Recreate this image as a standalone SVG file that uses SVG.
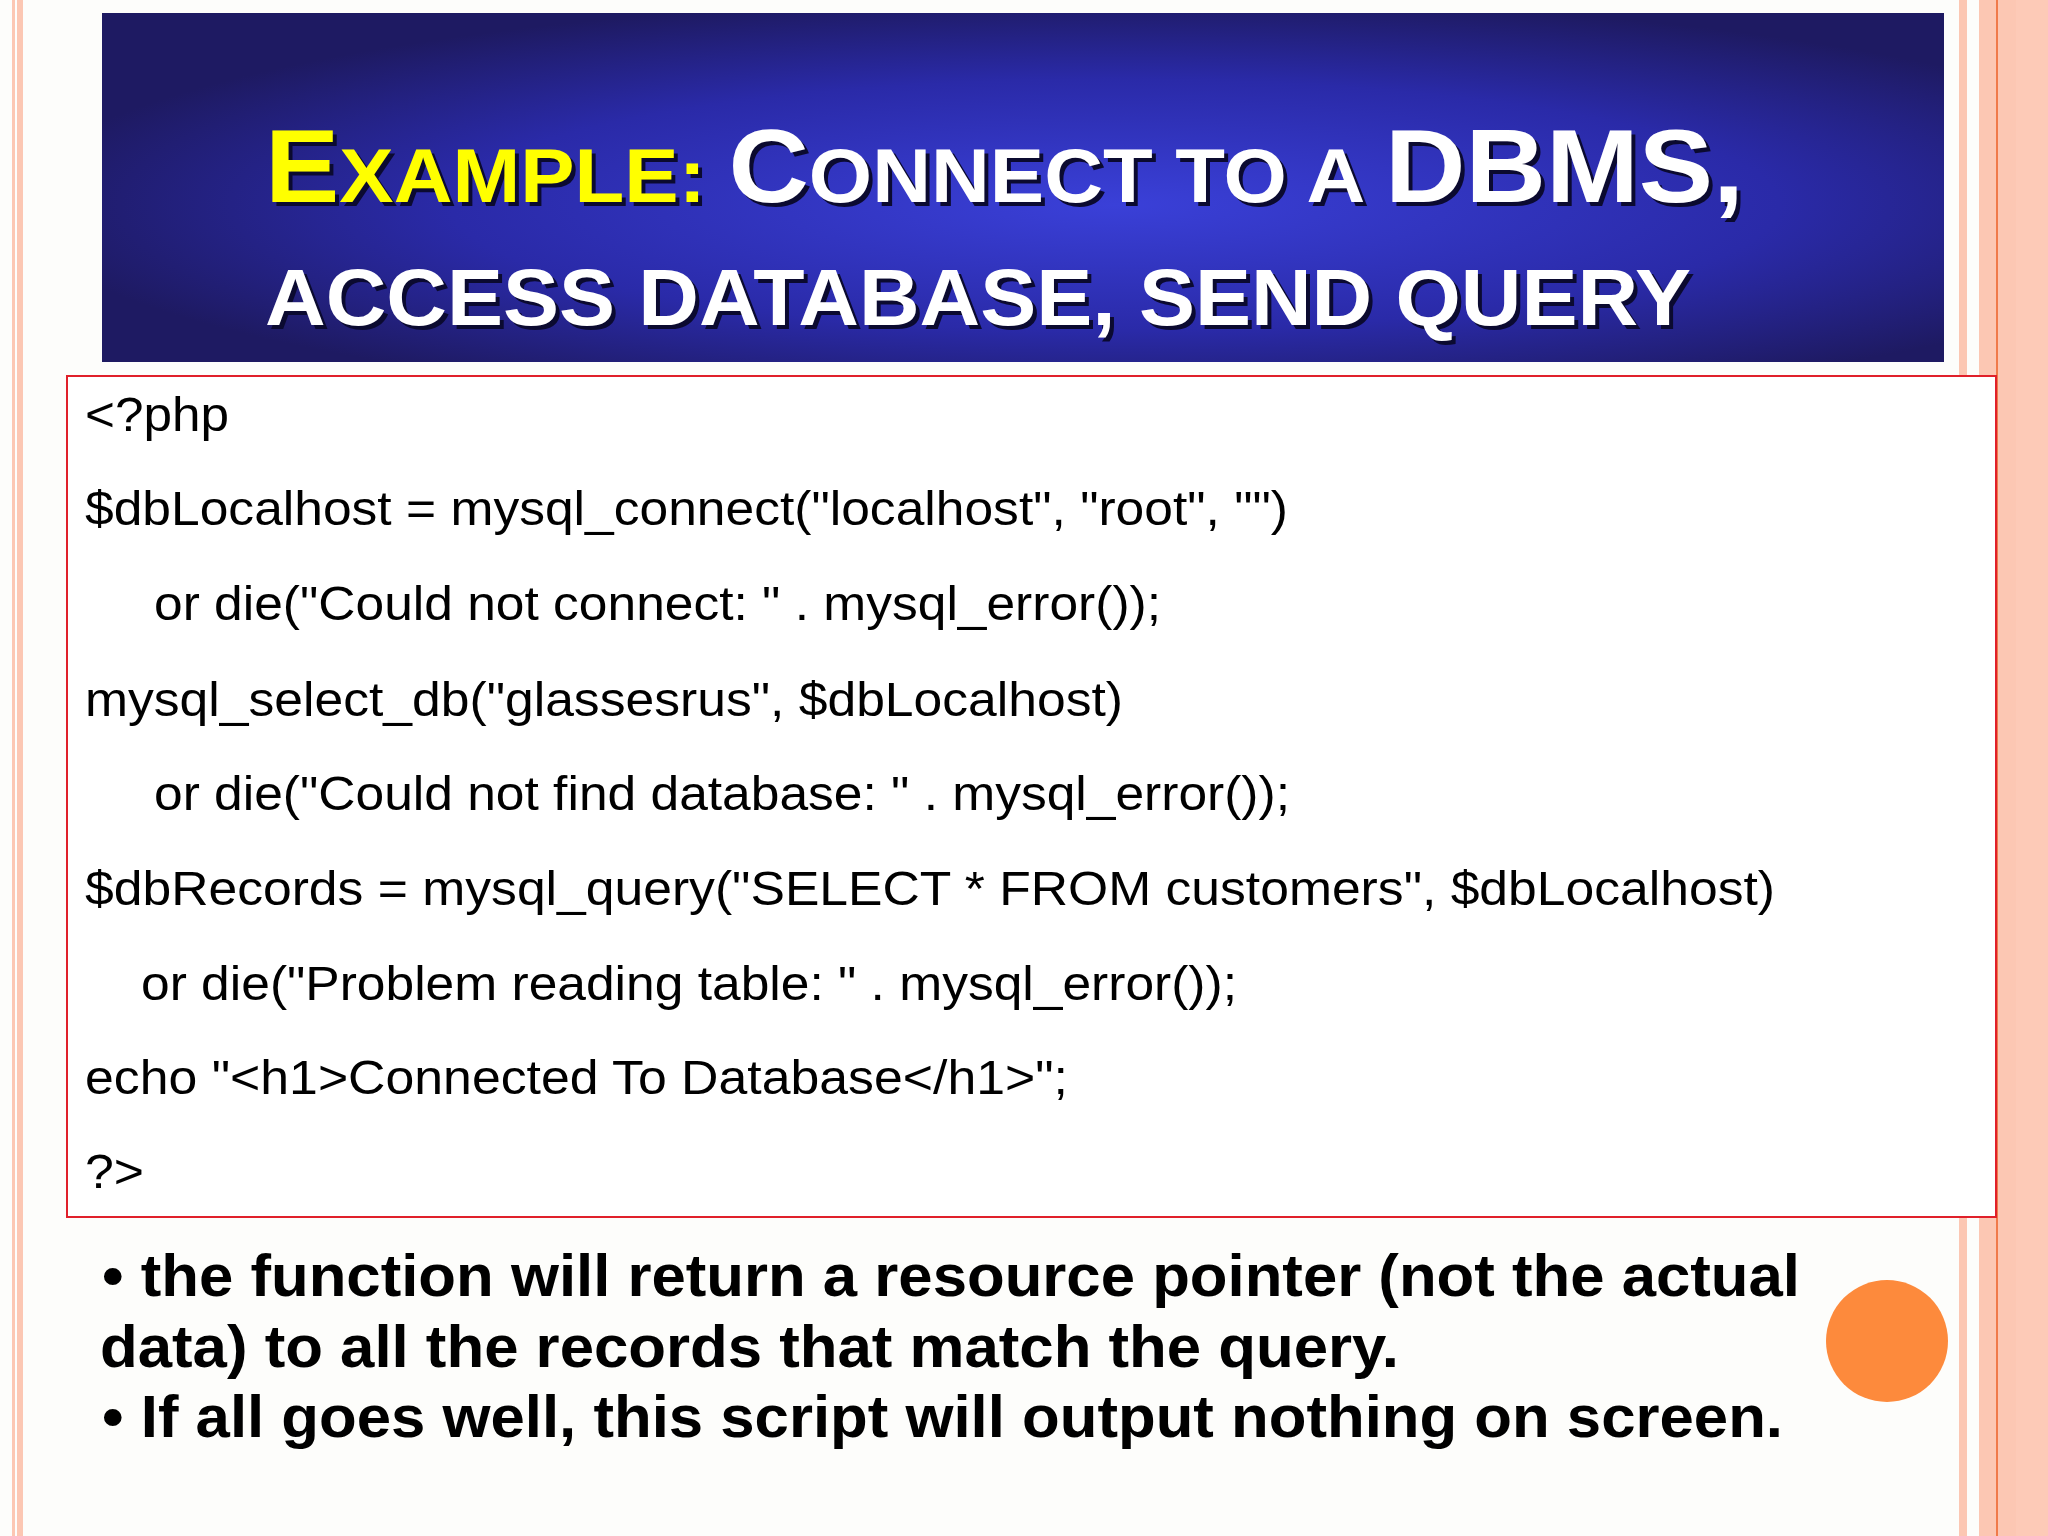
<svg xmlns="http://www.w3.org/2000/svg" width="2048" height="1536" viewBox="0 0 2048 1536">
<style>
.t{font-family:"Liberation Sans",Arial,sans-serif;font-weight:bold}
.c{font-family:"Liberation Sans",Arial,sans-serif;font-size:49px;fill:#000}
.b{font-family:"Liberation Sans",Arial,sans-serif;font-weight:bold;font-size:60px;fill:#000}
.sh{fill:#0b0a30}
.pk{fill:#fcc7b3}
</style>
<defs>
<radialGradient id="bg" cx="0.55" cy="0.55" r="0.6">
<stop offset="0" stop-color="#3a40d8"/>
<stop offset="0.6" stop-color="#2a2aa8"/>
<stop offset="1" stop-color="#1e1a62"/>
</radialGradient>
</defs>
<rect width="2048" height="1536" fill="#fdfdfb"/>
<g id="stripes">
<rect class="pk" x="12" y="0" width="3" height="1536"/>
<rect class="pk" x="17" y="0" width="6" height="1536"/>
<rect class="pk" x="1959" y="0" width="8" height="1536"/>
<rect class="pk" x="1979" y="0" width="69" height="1536"/>
<rect x="2016" y="0" width="32" height="1536" fill="#fdcab7"/>
<rect x="1996" y="0" width="2" height="1536" fill="#f07a4a"/>
</g>
<g id="banner">
<rect x="102" y="13" width="1842" height="349" fill="url(#bg)"/>
<g transform="translate(4,4)" class="t sh">
<text x="265" y="202" textLength="1479" lengthAdjust="spacingAndGlyphs"><tspan font-size="104">E</tspan><tspan font-size="76">XAMPLE: </tspan><tspan font-size="104">C</tspan><tspan font-size="76">ONNECT TO A </tspan><tspan font-size="104">DBMS,</tspan></text>
<text x="265" y="325" font-size="80" textLength="1426" lengthAdjust="spacingAndGlyphs">ACCESS DATABASE, SEND QUERY</text>
</g>
<g class="t">
<text x="265" y="202" textLength="1479" lengthAdjust="spacingAndGlyphs"><tspan font-size="104" fill="#ffff00">E</tspan><tspan font-size="76" fill="#ffff00">XAMPLE: </tspan><tspan font-size="104" fill="#fff">C</tspan><tspan font-size="76" fill="#fff">ONNECT TO A </tspan><tspan font-size="104" fill="#fff">DBMS,</tspan></text>
<text x="265" y="325" font-size="80" fill="#fff" textLength="1426" lengthAdjust="spacingAndGlyphs">ACCESS DATABASE, SEND QUERY</text>
</g>
</g>
<g id="code">
<rect x="67" y="376" width="1929" height="841" fill="#fff" stroke="#e0202a" stroke-width="2"/>
<text class="c" x="85" y="431" textLength="144" lengthAdjust="spacingAndGlyphs">&lt;?php</text>
<text class="c" x="85" y="525" textLength="1203" lengthAdjust="spacingAndGlyphs">$dbLocalhost = mysql_connect("localhost", "root", "")</text>
<text class="c" x="154" y="620" textLength="1007" lengthAdjust="spacingAndGlyphs">or die("Could not connect: " . mysql_error());</text>
<text class="c" x="85" y="716" textLength="1038" lengthAdjust="spacingAndGlyphs">mysql_select_db("glassesrus", $dbLocalhost)</text>
<text class="c" x="154" y="810" textLength="1136" lengthAdjust="spacingAndGlyphs">or die("Could not find database: " . mysql_error());</text>
<text class="c" x="85" y="905" textLength="1690" lengthAdjust="spacingAndGlyphs">$dbRecords = mysql_query("SELECT * FROM customers", $dbLocalhost)</text>
<text class="c" x="141" y="1000" textLength="1096" lengthAdjust="spacingAndGlyphs">or die("Problem reading table: " . mysql_error());</text>
<text class="c" x="85" y="1094" textLength="983" lengthAdjust="spacingAndGlyphs">echo "&lt;h1&gt;Connected To Database&lt;/h1&gt;";</text>
<text class="c" x="85" y="1188" textLength="59" lengthAdjust="spacingAndGlyphs">?&gt;</text>
</g>
<g id="notes">
<text class="b" x="102" y="1296" textLength="1698" lengthAdjust="spacingAndGlyphs">• the function will return a resource pointer (not the actual</text>
<text class="b" x="100" y="1367" textLength="1299" lengthAdjust="spacingAndGlyphs">data) to all the records that match the query.</text>
<text class="b" x="102" y="1437" textLength="1681" lengthAdjust="spacingAndGlyphs">• If all goes well, this script will output nothing on screen.</text>
</g>
<circle id="dot" cx="1887" cy="1341" r="61" fill="#fd8a3c"/>
</svg>
